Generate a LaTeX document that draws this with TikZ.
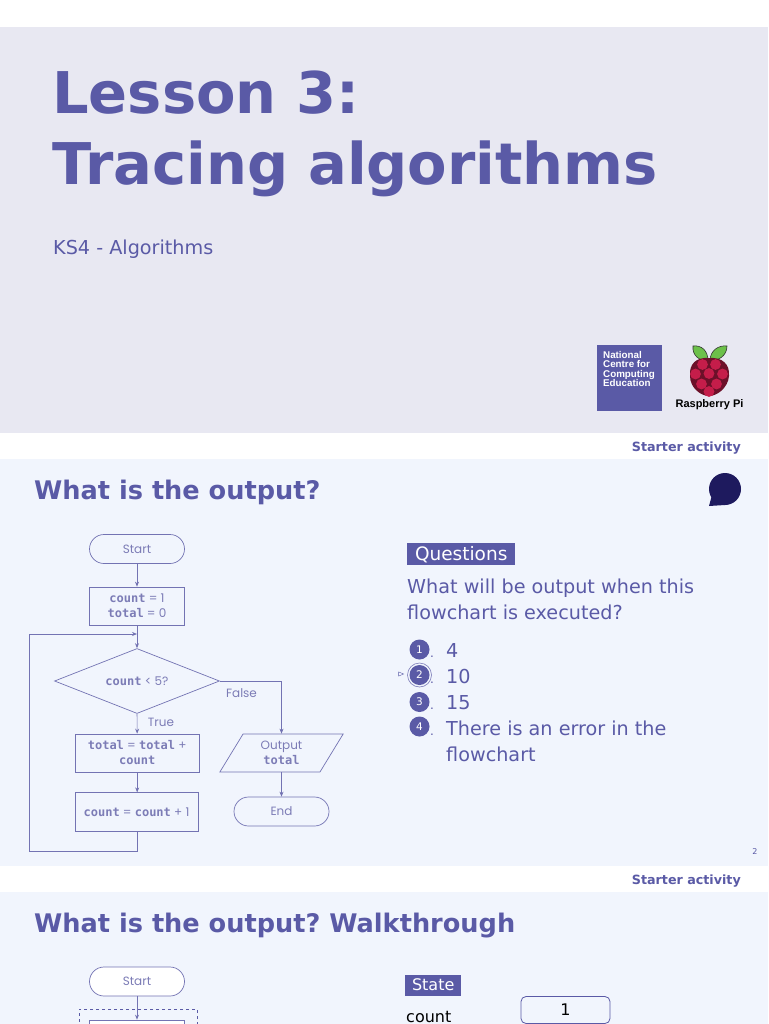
\documentclass[tikz,border=0pt]{standalone}
\usepackage{fontspec}
\usepackage{tikz}
\usetikzlibrary{shapes.geometric,arrows.meta}
\setmainfont{DejaVu Sans}
\newfontfamily\chartfont{Poppins}
\newfontfamily\codefont{DejaVu Sans Mono}
\newfontfamily\logofont{Liberation Sans}
\newcommand{\px}[1]{\fontsize{#1}{#1}\selectfont}
\newcommand{\kw}[1]{{\codefont\bfseries #1}}
\definecolor{ink}{HTML}{5A5AA6}
\definecolor{chartink}{HTML}{7C7CB6}
\definecolor{banner}{HTML}{E8E8F2}
\definecolor{pale}{HTML}{F1F5FD}
\definecolor{bubble}{HTML}{1E1A5E}
\definecolor{berry}{HTML}{C51D4A}
\definecolor{leaf}{HTML}{6CC04A}
\tikzset{
    heading/.style = {anchor=base west, inner sep=0, text=ink, font=\bfseries\px{25.6}},
    tag/.style = {anchor=base east, inner sep=0, text=ink, font=\bfseries\px{12.7}},
    body/.style = {anchor=base west, inner sep=0, text=ink, font=\px{19.2}},
    label/.style = {fill=ink, text=white, inner sep=0, font=\px{18.5}},
    num/.style = {circle, fill=ink, text=white, minimum size=20, inner sep=0, font=\px{10.5}},
    flowbox/.style = {rectangle, draw=ink!85, line width=0.7, align=center, inner sep=0, text=chartink, font=\chartfont\fontsize{12}{15}\selectfont},
    term/.style = {flowbox, rounded corners=14.5, minimum width=95, minimum height=29},
    decide/.style = {flowbox, diamond, minimum width=165, minimum height=65, aspect=2.5},
    output/.style = {flowbox, trapezium, trapezium left angle=62, trapezium right angle=118, trapezium stretches=true, minimum width=124, minimum height=38},
    flow/.style = {draw=ink!85, line width=0.7, -{Stealth[length=5,width=4]}},
    small/.style = {inner sep=0, text=chartink, font=\chartfont\px{12}}
}
\begin{document}
\frenchspacing
\begin{tikzpicture}[x=1pt, y=-1pt]
    \useasboundingbox (0,0) rectangle (768,1024);
    \clip (0,0) rectangle (768,1024);
    \fill[white] (0,0) rectangle (768,1024);
    \fill[banner] (0,27) rectangle (768,433);
    \fill[pale] (0,459) rectangle (768,866);
    \fill[pale] (0,892) rectangle (768,1024);

    % first slide
    \node[heading, font=\bfseries\px{57.5}] (lesson) at (52,114) {Lesson 3:};
    \node[heading, font=\bfseries\px{57.5}] (tracing) at (52,184.5) {Tracing algorithms};
    \node[body] (unit) at (53,254) {KS4 - Algorithms};

    \node[rectangle, fill=ink, minimum width=65, minimum height=66, inner sep=0] (ncce) at (629.5,378) {};
    \node[anchor=north west, inner sep=0, align=left, text=white, font=\logofont\bfseries\fontsize{9.8}{9.5}\selectfont] (ncceText) at (603,351) {National\\Centre for\\Computing\\Education};

    % raspberry
    \fill[leaf, draw=black!80, line width=0.6] (708,361) .. controls (700,361) and (692,356) .. (693,346) .. controls (701,345) and (708,350) .. (708,361);
    \fill[leaf, draw=black!80, line width=0.6] (710,361) .. controls (718,361) and (727,356) .. (727,346) .. controls (719,345) and (710,350) .. (710,361);
    \fill[berry!55!black] (709,358) .. controls (722,357) and (730,364) .. (729,376) .. controls (728,388) and (717,396) .. (709,396) .. controls (701,396) and (690,388) .. (690,376) .. controls (689,364) and (696,357) .. (709,358);
    \foreach \bx/\by in {702.5/364.5, 715.5/364.5, 695.5/374, 709/373.5, 722.5/374, 701.5/384, 716.5/384, 709/391.5}
        \fill[berry] (\bx,\by) circle (5.4);
    \node[inner sep=0, font=\logofont\bfseries\px{11}] (rpi) at (709.5,405) {Raspberry Pi};

    % second slide
    \node[tag] (tagA) at (741,451) {Starter activity};
    \node[heading] (titleA) at (34,499) {What is the output?};
    \fill[bubble] (725,489) circle (16);
    \fill[bubble] (712,495) -- (709,506) -- (725,505) -- cycle;

    \node[term] (start) at (137,549) {Start};
    \node[flowbox, minimum width=95, minimum height=38] (init) at (137,606) {\kw{count} = 1\\\kw{total} = 0};
    \node[decide] (check) at (137,681) {\kw{count} < 5?};
    \node[flowbox, minimum width=124.5, minimum height=38] (add) at (137.2,753) {\kw{total} = \kw{total} +\\\kw{count}};
    \node[flowbox, minimum width=123, minimum height=38.5] (incr) at (136.5,812) {\kw{count} = \kw{count} + 1};
    \node[output] (print) at (281.5,753) {Output\\\kw{total}};
    \node[term] (finish) at (281.5,811.5) {End};
    \node[small] (falseLabel) at (241.5,693.5) {False};
    \node[small] (trueLabel) at (161,722.5) {True};
    \coordinate (join) at (137,634);
    \coordinate (back) at (137,851);

    \draw[flow] (start) -- (init);
    \draw[flow] (init) -- (check);
    \draw[flow] (check) -- (add);
    \draw[flow] (add) -- (incr.north -| add);
    \draw[flow] (check.east) -| (print.north -| finish);
    \draw[flow] (print.south -| finish) -- (finish);
    \draw[flow] (incr.south -| back) -- (back) -- (29,851) -- (29,634) -- (join);

    \node[label, anchor=north west, minimum width=108, minimum height=22, text height=15, text depth=3] (questions) at (407,543) {Questions};
    \node[body] (askA) at (407,593) {What will be output when this};
    \node[body] (askB) at (407,619) {flowchart is executed?};

    \foreach \n/\y/\cy/\t in {1/657/649.5/4, 2/683/675/10, 3/709/702/15, 4/735/726.5/There is an error in the} {
        \node[body] (opt\n) at (446,\y) {\t};
        \node[body, font=\px{12}] (dot\n) at (430,\y) {.};
        \node[num] (num\n) at (419.5,\cy) {\n};
    }
    \node[body] (optMore) at (446,761) {flowchart};
    \draw[ink!80, line width=0.6] (num2) circle (12);
    \node[isosceles triangle, draw=ink, line width=0.4, minimum width=4, minimum height=5, inner sep=0] (pointer) at (400,674) {};

    \node[inner sep=0, text=ink, font=\px{8}] (page) at (755,852) {2};

    % third slide
    \node[tag] (tagB) at (741,884) {Starter activity};
    \node[heading] (titleB) at (34,932) {What is the output? Walkthrough};
    \node[term, fill=white] (startB) at (137,981.5) {Start};
    \node[rectangle, draw=ink, dashed, line width=0.6, minimum width=118, minimum height=60, inner sep=0] (focus) at (138,1039) {};
    \node[flowbox, fill=white, minimum width=95, minimum height=38] (initB) at (137,1039) {};
    \draw[flow] (startB) -- (initB);

    \node[label, anchor=north west, minimum width=56, minimum height=21, text height=13, text depth=4, font=\px{16}] (state) at (405,975) {State};
    \node[anchor=base west, inner sep=0, text=black, font=\px{16}] (countName) at (406,1022) {count};
    \node[rectangle, draw=ink, fill=pale, line width=0.8, rounded corners=5, minimum width=89, minimum height=27, inner sep=0, text=black, font=\px{16}] (countVal) at (565.5,1010) {1};
\end{tikzpicture}
\end{document}
